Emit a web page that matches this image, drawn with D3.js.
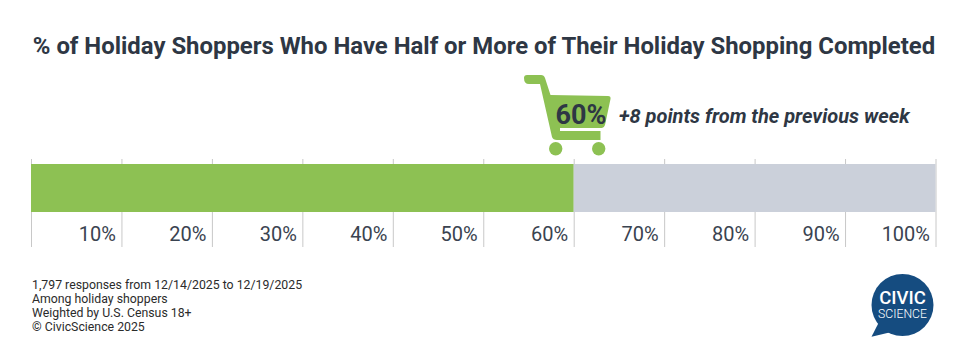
<!DOCTYPE html>
<meta charset="utf-8">
<script src="https://d3js.org/d3.v7.min.js"></script>
<style>
  html, body { margin: 0; background: #fff; overflow: hidden; }
  text { font-family: Roboto, sans-serif; }
</style>
<div id="chart"></div>
<script>
  // values
  const segments = ["Half or more", "Rest"];
  const segmentValues = [60, 40];
  const segmentColors = ["#8dc153", "#cbd0da"];
  const tickValues = [0, 10, 20, 30, 40, 50, 60, 70, 80, 90, 100];
  const titleText = "% of Holiday Shoppers Who Have Half or More of Their Holiday Shopping Completed";
  const calloutValue = "60%";
  const calloutText = "+8 points from the previous week";
  const footnotes = [
    "1,797 responses from 12/14/2025 to 12/19/2025",
    "Among holiday shoppers",
    "Weighted by U.S. Census 18+",
    "\u00a9 CivicScience 2025"
  ];

  const width = 966, height = 362;
  const dark = "#2e3744";

  const svg = d3.select("#chart").append("svg")
    .attr("width", width)
    .attr("height", height)
    .style("display", "block");

  const x = d3.scaleLinear().domain([0, 100]).range([31, 935.5]);

  svg.append("text")
    .attr("x", 484).attr("y", 54)
    .attr("text-anchor", "middle")
    .style("font-size", "23.9px").style("font-weight", 700)
    .style("fill", dark)
    .text(titleText);

  // axis first, the bar sits on top of the tick lines
  const axis = svg.append("g")
    .attr("transform", "translate(0,159)")
    .call(d3.axisBottom(x).tickValues(tickValues).tickSize(88)
      .tickFormat(d => d === 0 ? "" : d + "%"));
  axis.select(".domain").remove();
  axis.selectAll(".tick line").attr("stroke", "#c8c8c8");
  axis.selectAll(".tick text")
    .attr("x", -6).attr("y", 82).attr("dy", 0)
    .attr("text-anchor", "end")
    .style("font-size", "20px")
    .style("fill", "#3a4350");

  // stacked bar
  let cum = 0;
  const stacked = segmentValues.map((v, i) => {
    const s = { name: segments[i], start: cum, end: cum + v, color: segmentColors[i] };
    cum += v;
    return s;
  });
  svg.selectAll(".seg")
    .data(stacked)
    .join("rect")
      .attr("class", "seg")
      .attr("x", d => x(d.start))
      .attr("y", 164)
      .attr("width", d => x(d.end) - x(d.start))
      .attr("height", 48)
      .attr("fill", d => d.color);

  // cart icon, hung from the 60% position
  const cart = svg.append("g")
    .attr("transform", `translate(${x(segmentValues[0])},0)`)
    .attr("fill", segmentColors[0]);
  cart.append("path")
    .attr("transform", "translate(-573.7,0)")
    .attr("d", "M524,78 Q524,75 527,75 L541,75 Q544,75 545,78 L550.5,95 L608,96 Q611,96 610.500,99 L605,125 Q604,128 602,128 L560,128 L560,131 L600.5,131 L600.5,140 L557,140 Q553,140 552,137 L540,84 L529,84 Q524,84 524,78 Z");
  cart.selectAll("circle")
    .data([-18, 25])
    .join("circle")
      .attr("cx", d => d)
      .attr("cy", 148.7)
      .attr("r", 6.7);

  svg.append("text")
    .attr("x", 581).attr("y", 124)
    .attr("text-anchor", "middle")
    .style("font-size", "27px").style("font-weight", 700)
    .style("fill", dark)
    .text(calloutValue);

  svg.append("text")
    .attr("x", 619).attr("y", 122.5)
    .style("font-size", "20px").style("font-weight", 700).style("font-style", "italic")
    .style("fill", dark)
    .text(calloutText);

  // footnotes
  svg.selectAll(".note")
    .data(footnotes)
    .join("text")
      .attr("class", "note")
      .attr("x", 32)
      .attr("y", (d, i) => 289 + i * 13.9)
      .style("font-size", "12.3px")
      .style("fill", "#2b2b2b")
      .text(d => d);

  // logo
  const logo = svg.append("g").attr("transform", "translate(902.5,305)");
  logo.append("path")
    .attr("d", "M-24,18 L-31,31.700 L-11,27 Z")
    .attr("fill", "#154c80");
  logo.append("circle").attr("r", 31).attr("fill", "#154c80");
  logo.append("text")
    .attr("text-anchor", "middle").attr("y", -1)
    .style("font-size", "18.5px").style("font-weight", 500)
    .style("fill", "#fff")
    .text("CIVIC");
  logo.append("text")
    .attr("text-anchor", "middle").attr("y", 12.5)
    .style("font-size", "12.2px").style("font-weight", 300)
    .style("fill", "#fff")
    .text("SCIENCE");
</script>
